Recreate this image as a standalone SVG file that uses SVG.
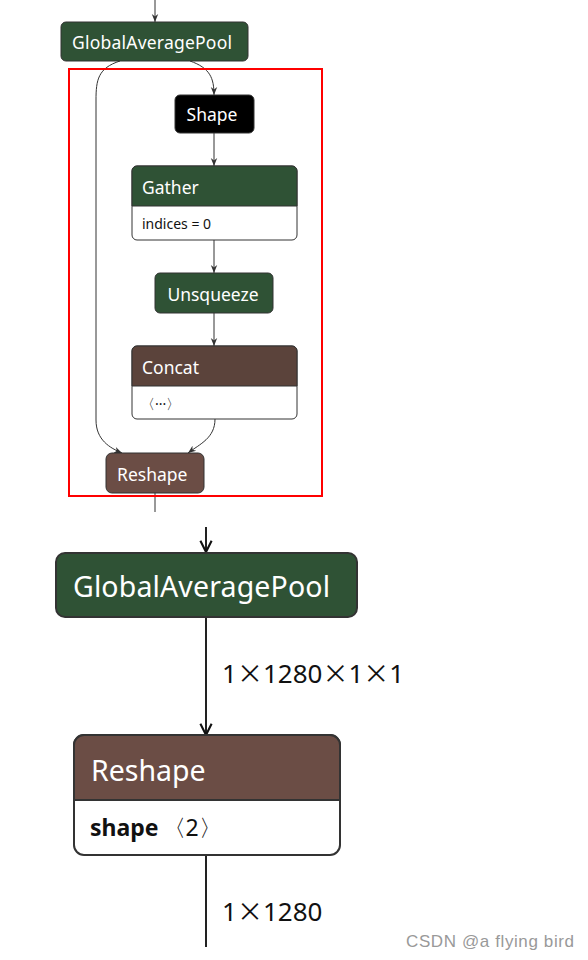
<svg xmlns="http://www.w3.org/2000/svg" width="588" height="960" viewBox="0 0 588 960">
<defs>
<style>
.t{font-family:"Noto Sans","Open Sans",sans-serif;fill:#fff}
.s{stroke:#333;stroke-width:1}
.e{fill:none;stroke:#333;stroke-width:1}
.E{fill:none;stroke:#222;stroke-width:2}
.lb{font-family:"Noto Sans","Open Sans",sans-serif;fill:#111}
.x{font-family:"Noto Sans CJK SC",sans-serif}
</style>
<marker id="a" viewBox="0 0 10 10" refX="10" refY="5" markerWidth="8" markerHeight="8" orient="auto" markerUnits="userSpaceOnUse">
<path d="M0,1 L10,5 L0,9 L3,5 Z" fill="#333"/>
</marker>
<marker id="A" viewBox="0 0 10 10" refX="9" refY="5" markerWidth="14" markerHeight="14" orient="auto" markerUnits="userSpaceOnUse">
<path d="M1,1 L9,5 L1,9" fill="none" stroke="#111" stroke-width="1.5"/>
</marker>
</defs>
<rect width="588" height="960" fill="#fff"/>

<g id="connectors">
<path class="e" d="M155,0 V22" marker-end="url(#a)"/>
<path class="e" d="M190,61 C210,68 214,78 214,95" marker-end="url(#a)"/>
<path class="e" d="M120,61 C98,68 96,80 96,100 V420 C96,440 110,448 122,453" marker-end="url(#a)"/>
<path class="e" d="M214,133 V166" marker-end="url(#a)"/>
<path class="e" d="M214,240 V273" marker-end="url(#a)"/>
<path class="e" d="M214,313 V346" marker-end="url(#a)"/>
<path class="e" d="M215,419 C215,438 200,444 188,453" marker-end="url(#a)"/>
<path class="e" d="M155,493 V512"/>
<path class="E" d="M206,527 V552" marker-end="url(#A)"/>
<path class="E" d="M206,617 V735" marker-end="url(#A)"/>
<path class="E" d="M206,855 V947"/>
<text class="lb" x="222" y="683" font-size="26">1<tspan class="x">×</tspan>1280<tspan class="x">×</tspan>1<tspan class="x">×</tspan>1</text>
<text class="lb" x="222" y="921" font-size="26">1<tspan class="x">×</tspan>1280</text>
</g>

<rect id="highlight" x="69" y="69" width="253" height="427" fill="none" stroke="#f00" stroke-width="2"/>

<g id="gap_small">
<rect class="s" x="61" y="22" width="187" height="39" rx="5" fill="#2f5235"/>
<text class="t" x="72" y="49" font-size="17.5" textLength="160">GlobalAveragePool</text>
</g>

<g id="shape">
<rect class="s" x="175" y="95" width="79" height="38" rx="5" fill="#000"/>
<text class="t" x="212" y="121" font-size="17.5" text-anchor="middle">Shape</text>
</g>

<g id="gather">
<rect class="s" x="132" y="166" width="165" height="74" rx="5" fill="#fff"/>
<path class="s" d="M132,206 V171 A5,5 0 0 1 137,166 H292 A5,5 0 0 1 297,171 V206 Z" fill="#2f5235"/>
<text class="t" x="142" y="194" font-size="17.5">Gather</text>
<text class="lb" x="142" y="229" font-size="14">indices = 0</text>
</g>

<g id="unsqueeze">
<rect class="s" x="155" y="273" width="118" height="40" rx="5" fill="#2f5235"/>
<text class="t" x="213" y="301" font-size="17.5" text-anchor="middle">Unsqueeze</text>
</g>

<g id="concat">
<rect class="s" x="132" y="346" width="165" height="73" rx="5" fill="#fff"/>
<path class="s" d="M132,386 V351 A5,5 0 0 1 137,346 H292 A5,5 0 0 1 297,351 V386 Z" fill="#5b433b"/>
<text class="t" x="142" y="374" font-size="17.5">Concat</text>
<text class="lb" x="141" y="409" font-size="14">〈···〉</text>
</g>

<g id="reshape_small">
<rect class="s" x="106" y="453" width="98" height="40" rx="6" fill="#6b4d45"/>
<text class="t" x="117" y="481" font-size="17.5">Reshape</text>
</g>

<g id="gap_big">
<rect x="56" y="553" width="301" height="64" rx="9" fill="#2f5235" stroke="#333" stroke-width="2"/>
<text class="t" x="73" y="597" font-size="28.5" textLength="257">GlobalAveragePool</text>
</g>

<g id="reshape_big">
<rect x="74" y="735" width="266" height="120" rx="10" fill="#fff" stroke="#333" stroke-width="2"/>
<path d="M74,800 V745 A10,10 0 0 1 84,735 H330 A10,10 0 0 1 340,745 V800 Z" fill="#6b4d45" stroke="#333" stroke-width="2"/>
<text class="t" x="91" y="781" font-size="28.5">Reshape</text>
<text class="lb" x="90" y="836" font-size="23"><tspan font-weight="bold">shape</tspan><tspan dx="-2"> 〈2〉</tspan></text>
</g>

<text x="406" y="947" font-family="Liberation Sans, Arial, sans-serif" font-size="17" fill="#999" textLength="168">CSDN @a flying bird</text>
</svg>
